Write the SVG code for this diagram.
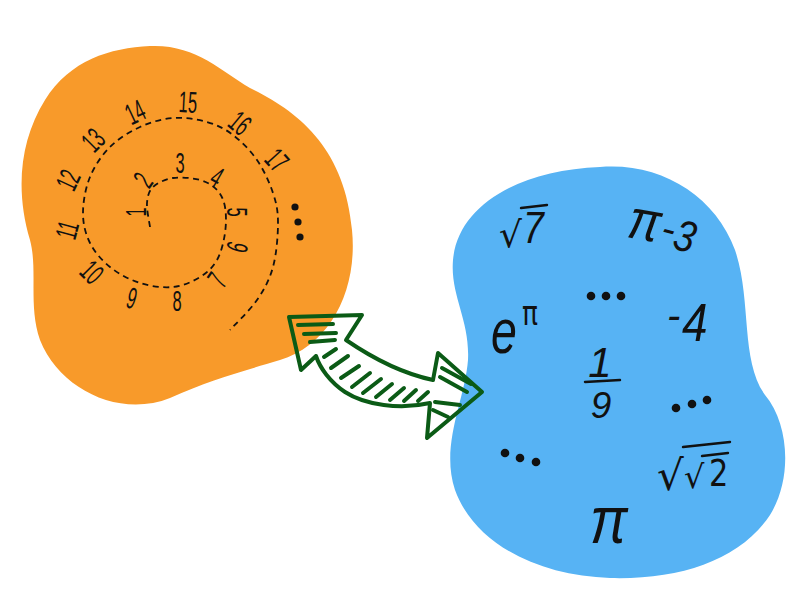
<svg xmlns="http://www.w3.org/2000/svg" width="795" height="596" viewBox="0 0 795 596">
<style>
.n{font-family:"Liberation Sans",Arial,sans-serif;font-size:30px;fill:#111;text-anchor:middle;dominant-baseline:central}
.m{font-family:"Liberation Sans",Arial,sans-serif;font-style:italic;fill:#111}
.r{font-family:"DejaVu Sans","Liberation Sans",sans-serif;fill:#111}
.d{fill:#111}
.bar{stroke:#111;stroke-width:2.4;stroke-linecap:round;fill:none}
.h{stroke:#0b5b16;stroke-width:4;stroke-linecap:round;fill:none}
</style>
<rect width="795" height="596" fill="#ffffff"/>
<g id="orange-set">
<path d="M150,46 C195,44 220,70 250,88 C300,112 345,150 352,230 C358,290 330,345 280,360 C240,372 210,380 170,398 C120,418 60,390 40,340 C28,305 38,270 30,240 C15,190 20,140 45,100 C70,60 110,48 150,46 Z" fill="#F89A2A"/>
<path d="M150,227 C149.5,223 146.5,209.7 147,203 C147.5,196.3 148.7,191.2 153,187 C157.3,182.8 165.2,179.2 173,178 C180.8,176.8 192.7,178 200,180 C207.3,182 212.8,185.5 217,190 C221.2,194.5 223.7,199.8 225,207 C226.3,214.2 226.3,224.2 225,233 C223.7,241.8 221.2,252.7 217,260 C212.8,267.3 207.3,272.5 200,277 C192.7,281.5 183,286 173,287 C163,288 150.5,286.3 140,283 C129.5,279.7 118.3,273.7 110,267 C101.7,260.3 94.5,252 90,243 C85.5,234 83,224 83,213 C83,202 85.5,188 90,177 C94.5,166 101.7,155.3 110,147 C118.3,138.7 129.5,131.8 140,127 C150.5,122.2 161.8,118.8 173,118 C184.2,117.2 197,119.2 207,122 C217,124.8 224.7,128.7 233,135 C241.3,141.3 250.3,150.3 257,160 C263.7,169.7 269.5,182.5 273,193 C276.5,203.5 278,210.7 278,223 C278,235.3 276.5,254.2 273,267 C269.5,279.8 264.2,289.5 257,300 C249.8,310.5 234.5,325 230,330" fill="none" stroke="#111" stroke-width="1.8" stroke-dasharray="6 4.5"/>
<g id="numbers">
<text class="n" transform="translate(135,212) rotate(-90) scale(0.55,1)">1</text>
<text class="n" transform="translate(143,180) rotate(-55) scale(0.55,1)">2</text>
<text class="n" transform="translate(180,162) rotate(0) scale(0.55,1)">3</text>
<text class="n" transform="translate(217,177) rotate(30) scale(0.55,1)">4</text>
<text class="n" transform="translate(238,212) rotate(90) scale(0.55,1)">5</text>
<text class="n" transform="translate(237,247) rotate(-75) scale(0.55,1)">6</text>
<text class="n" transform="translate(217,280) rotate(-55) scale(0.55,1)">7</text>
<text class="n" transform="translate(177,300) rotate(0) scale(0.55,1)">8</text>
<text class="n" transform="translate(132,298) rotate(15) scale(0.55,1)">9</text>
<text class="n" transform="translate(92,272) rotate(45) scale(0.55,1)">10</text>
<text class="n" transform="translate(67,230) rotate(-75) scale(0.55,1)">11</text>
<text class="n" transform="translate(68,180) rotate(-65) scale(0.55,1)">12</text>
<text class="n" transform="translate(93,140) rotate(-45) scale(0.55,1)">13</text>
<text class="n" transform="translate(135,112) rotate(-25) scale(0.55,1)">14</text>
<text class="n" transform="translate(188,102) rotate(3) scale(0.55,1)">15</text>
<text class="n" transform="translate(240,123) rotate(40) scale(0.55,1)">16</text>
<text class="n" transform="translate(277,160) rotate(48) scale(0.55,1)">17</text>
</g>
<circle class="d" cx="295" cy="207" r="3.6"/>
<circle class="d" cx="298" cy="222" r="3.6"/>
<circle class="d" cx="300" cy="237" r="3.6"/>
</g>
<g id="blue-set">
<path d="M600,167 C660,162 715,195 735,250 C752,300 740,360 765,395 C790,425 792,480 770,515 C740,560 680,580 610,578 C540,576 475,545 455,490 C440,445 465,400 468,360 C470,320 450,295 453,260 C458,205 520,170 600,167 Z" fill="#57B3F4"/>
<g id="sqrt7">
<text class="r" x="499" y="247" font-size="36">√</text>
<line class="bar" x1="521" y1="208" x2="547" y2="205"/>
<text class="m" transform="translate(523,243) scale(0.85,1)" font-size="44">7</text>
</g>
<g id="pi-3">
<text class="m" transform="translate(626,237) rotate(10) scale(0.85,1)" font-size="56">π</text>
<text class="m" transform="translate(659,240) rotate(15)" font-size="40">-</text>
<text class="m" transform="translate(671,248) rotate(15) scale(0.85,1)" font-size="44">3</text>
</g>
<g id="dots-top">
<circle class="d" cx="591" cy="296" r="4.3"/><circle class="d" cx="606" cy="296" r="4.3"/><circle class="d" cx="621" cy="296" r="4.3"/>
</g>
<g id="e-pi">
<text class="m" transform="translate(491,353) scale(0.75,1)" font-size="62">e</text>
<text class="r" transform="translate(522,325) scale(0.78,1)" font-size="34">π</text>
</g>
<g id="minus4">
<text class="m" x="667" y="329" font-size="40">-</text>
<text class="m" transform="translate(682,341) scale(0.85,1)" font-size="54">4</text>
</g>
<g id="frac">
<text class="m" x="600" y="377" font-size="42" text-anchor="middle">1</text>
<line class="bar" x1="585" y1="382" x2="620" y2="380"/>
<text class="m" x="601" y="418" font-size="37" text-anchor="middle">9</text>
</g>
<g id="dots-right">
<circle class="d" cx="676" cy="408" r="4.3"/><circle class="d" cx="692" cy="404" r="4.3"/><circle class="d" cx="707" cy="400" r="4.3"/>
</g>
<g id="dots-left">
<circle class="d" cx="505" cy="453" r="4.3"/><circle class="d" cx="520" cy="458" r="4.3"/><circle class="d" cx="536" cy="462" r="4.3"/>
</g>
<g id="sqrt-sqrt2">
<text class="r" x="657" y="490" font-size="42">√</text>
<line class="bar" x1="683" y1="447" x2="730" y2="442"/>
<text class="r" x="684" y="488" font-size="32">√</text>
<line class="bar" x1="702" y1="456" x2="728" y2="453"/>
<text class="r" transform="translate(709,486) scale(0.8,1)" font-size="38">2</text>
</g>
<text class="m" transform="translate(590,543) scale(0.85,1)" font-size="66">π</text>
</g>
<g id="connectors">
<path d="M289,317 L362,315 L346,340 C365,353 395,372 433,380 L438,353 L482,392 L427,438 L430,403 C400,410 365,405 345,392 C330,382 320,368 316,356 L301,370 Z" fill="none" stroke="#0b5b16" stroke-width="4" stroke-linejoin="round"/>
<path class="h" d="M298,325 L333,324 M304,334 L336,333 M310,342 L335,340 M324,357 L336,349 M331,368 L348,356 M341,378 L359,366 M352,387 L370,373 M363,393 L381,379 M376,397 L392,384 M390,400 L404,388 M404,401 L416,390 M418,401 L428,392 M442,368 L471,384 M440,377 L467,392 M435,402 L460,405 M433,410 L448,417"/>
</g>
</svg>
